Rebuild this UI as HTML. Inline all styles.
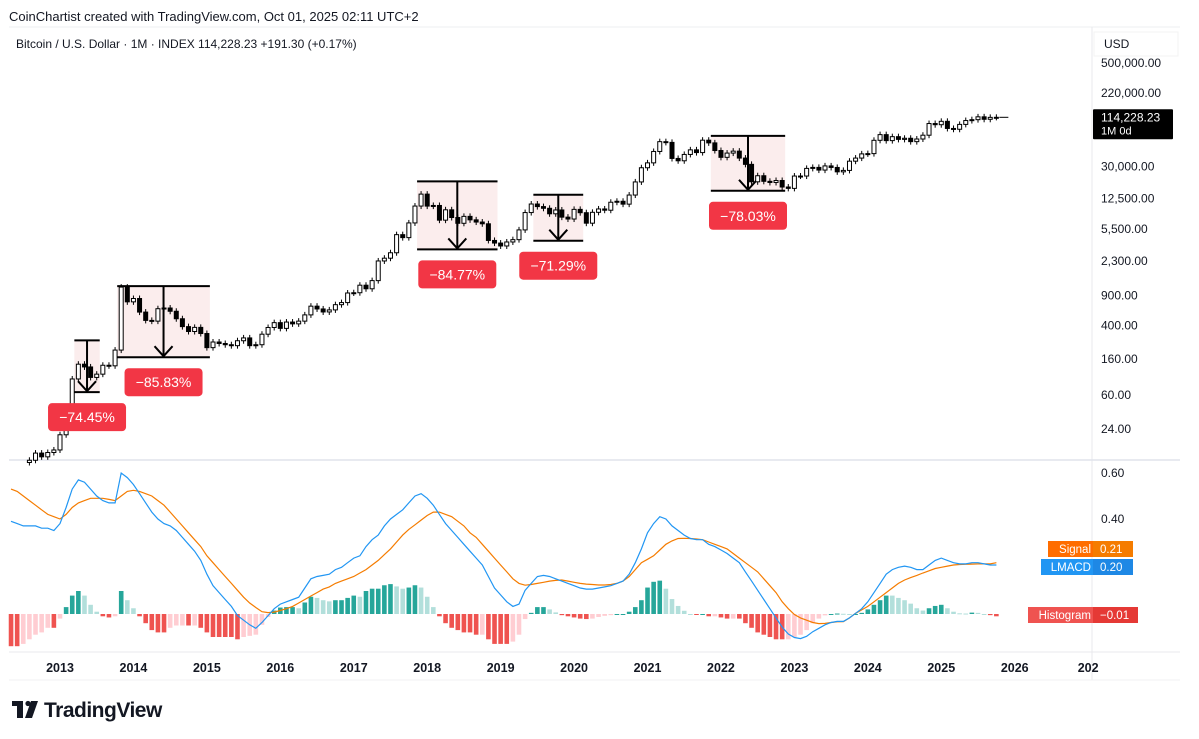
<!DOCTYPE html>
<html><head><meta charset="utf-8">
<style>
body{margin:0;background:#fff;font-family:"Liberation Sans",sans-serif;}
svg{display:block}
text{font-family:"Liberation Sans",sans-serif;}
</style></head>
<body>
<svg id="c" width="1199" height="739" viewBox="0 0 1199 739">
<rect x="0" y="0" width="1199" height="739" fill="#fff"/>
<text x="9" y="21" font-size="13" fill="#131722">CoinChartist created with TradingView.com, Oct 01, 2025 02:11 UTC+2</text>
<line x1="9" y1="27" x2="1180" y2="27" stroke="#eeeff2"/>
<line x1="1092" y1="27" x2="1092" y2="680" stroke="#e8e9ec"/>
<line x1="9" y1="460" x2="1180" y2="460" stroke="#e0e3eb" stroke-width="1.5"/>
<line x1="9" y1="652" x2="1180" y2="652" stroke="#e8e9ec"/>
<line x1="9" y1="680" x2="1180" y2="680" stroke="#f0f1f3"/>
<text x="16" y="48" font-size="12" fill="#131722">Bitcoin / U.S. Dollar · 1M · INDEX  114,228.23  +191.30 (+0.17%)</text>
<rect x="1094" y="32" width="84" height="24" fill="#fff" stroke="#f3f3f3"/>
<text x="1104" y="48" font-size="12" fill="#131722">USD</text>
<g id="annot"></g>
<g id="candles"></g>
<g id="labels"></g>
<g id="macd"></g>
<g id="axes"></g>
<g>
<rect x="12" y="701" width="11" height="5" fill="#131722"/>
<rect x="17" y="701" width="6" height="17" fill="#131722"/>
<circle cx="28" cy="703.5" r="2.6" fill="#131722"/>
<polygon points="31,701 38,701 32,718 25,718" fill="#131722"/>
<text x="44" y="717" font-size="21" font-weight="bold" fill="#131722" letter-spacing="-0.5">TradingView</text>
</g>
</svg>
<script>
// ---- data ----
const firstMonth = -5; // Aug 2012 (months since Jan 2013)
const closes = [10.2,12.4,11.2,12.6,13.5,
20.4,33.4,93,139,129,97,106,135,133,204,1130,757,
829,573,457,448,628,640,586,478,386,338,378,320,
218,254,244,236,230,263,284,230,236,314,377,430,
368,437,416,448,531,673,624,575,608,701,742,963,
970,1190,1080,1348,2300,2480,2875,4703,4338,6468,10233,14156,
10221,10397,6973,9240,7494,6404,7730,7033,6625,6318,4017,3742,
3457,3854,4105,5350,8574,10817,10085,9630,8293,9199,7569,7193,
9350,8543,6424,8630,9455,9138,11351,11655,10779,13805,19713,28990,
33114,45137,58918,57750,37332,35040,41626,47166,43790,61318,57005,46306,
38483,43194,45538,37714,31792,19785,23336,20050,19431,20495,17168,16547,
23139,23147,28478,29268,27219,30477,29230,25940,26967,34667,37712,42265,
42580,61130,71333,60636,67491,62678,64619,58969,63329,70215,96449,93429,
102405,84373,82548,94207,104638,107135,115758,108236,114037,114228];
const firstOpen = 9.6;
const macdStart = -8;
const macdVals = [0.39,0.38,0.37,0.37,0.37,0.36,0.36,0.35,
0.38,0.45,0.53,0.57,0.56,0.53,0.50,0.48,0.47,0.47,0.60,0.58,
0.55,0.51,0.47,0.43,0.40,0.38,0.37,0.35,0.32,0.29,0.26,0.22,
0.16,0.11,0.08,0.05,0.02,-0.02,-0.04,-0.06,-0.075,-0.05,-0.02,0.01,
0.03,0.04,0.05,0.06,0.10,0.14,0.15,0.155,0.16,0.18,0.19,0.21,
0.23,0.24,0.28,0.31,0.33,0.37,0.40,0.42,0.44,0.47,0.50,0.51,
0.49,0.46,0.42,0.38,0.35,0.32,0.29,0.26,0.23,0.20,0.15,0.10,
0.07,0.04,0.02,0.03,0.09,0.12,0.15,0.155,0.15,0.14,0.13,0.12,
0.11,0.10,0.095,0.095,0.10,0.105,0.11,0.12,0.13,0.16,0.21,0.27,
0.34,0.38,0.41,0.40,0.37,0.35,0.33,0.315,0.31,0.31,0.29,0.28,
0.265,0.25,0.23,0.21,0.17,0.13,0.09,0.05,0.01,-0.03,-0.07,-0.10,
-0.115,-0.12,-0.11,-0.09,-0.075,-0.06,-0.05,-0.045,-0.045,-0.03,-0.01,0.01,
0.04,0.08,0.12,0.16,0.18,0.19,0.195,0.19,0.18,0.18,0.20,0.22,
0.23,0.22,0.21,0.205,0.205,0.21,0.21,0.205,0.20,0.20];
const signalVals = [0.53,0.52,0.50,0.48,0.46,0.44,0.42,0.41,
0.40,0.42,0.45,0.47,0.48,0.49,0.49,0.49,0.485,0.48,0.50,0.52,
0.525,0.52,0.51,0.50,0.48,0.46,0.43,0.40,0.37,0.34,0.31,0.28,
0.24,0.21,0.18,0.15,0.12,0.09,0.06,0.035,0.015,-0.003,-0.007,-0.005,
0.002,0.01,0.02,0.035,0.05,0.065,0.08,0.095,0.105,0.12,0.13,0.14,
0.15,0.165,0.18,0.20,0.22,0.245,0.27,0.30,0.33,0.355,0.375,0.395,
0.415,0.43,0.43,0.42,0.41,0.39,0.37,0.34,0.32,0.29,0.26,0.23,
0.20,0.17,0.14,0.12,0.112,0.115,0.12,0.125,0.13,0.133,0.135,0.13,
0.125,0.12,0.117,0.115,0.113,0.113,0.115,0.12,0.13,0.15,0.18,0.21,
0.225,0.24,0.265,0.29,0.305,0.315,0.316,0.315,0.313,0.31,0.30,0.29,
0.28,0.27,0.25,0.23,0.21,0.19,0.17,0.14,0.11,0.08,0.04,0.01,
-0.015,-0.03,-0.04,-0.05,-0.055,-0.054,-0.05,-0.047,-0.046,-0.03,-0.01,0.005,
0.02,0.04,0.06,0.08,0.10,0.12,0.135,0.145,0.155,0.165,0.175,0.185,
0.19,0.195,0.20,0.202,0.203,0.204,0.205,0.205,0.205,0.21];
const priceTicks = [500000,220000,30000,12500,5500,2300,900,400,160,60,24];
const priceTickLabels = ["500,000.00","220,000.00","30,000.00","12,500.00","5,500.00","2,300.00","900.00","400.00","160.00","60.00","24.00"];
const macdTicks = [0.6,0.4];
const macdTickLabels = ["0.60","0.40"];
const yearLabels = ["2013","2014","2015","2016","2017","2018","2019","2020","2021","2022","2023","2024","2025","2026","202"];
// drawdowns
const drawStart = [3, 10, 59, 78, 107];
const drawEnd = [6, 24, 71, 85, 118];
const drawHigh = [266, 1160, 20000, 13900, 69000];
const drawLow = [65, 168, 3150, 3990, 15500];
const drawLabels = ["\u221274.45%","\u221285.83%","\u221284.77%","\u221271.29%","\u221278.03%"];

// ---- scales ----
const NS='http://www.w3.org/2000/svg';
function xOf(m){return 60+m*6.12;}
function yOf(p){return 63+(Math.log10(500000)-Math.log10(p))*84.7;}
function yM(v){return 611-v*230;}
const HB=614, HK=1.0;
function mk(tag,attrs,parent){const e=document.createElementNS(NS,tag);for(const k in attrs)e.setAttribute(k,attrs[k]);parent.appendChild(e);return e;}

// ---- annotations ----
const an=document.getElementById('annot');
const lb=document.getElementById('labels');
for(let i=0;i<drawStart.length;i++){
  const x1=xOf(drawStart[i])-4,x2=xOf(drawEnd[i])+3,y1=yOf(drawHigh[i]),y2=yOf(drawLow[i]),xm=(x1+x2)/2;
  const g=mk('g',{},an);
  
  
  mk('rect',{x:x1,y:y1,width:x2-x1,height:y2-y1,fill:'#f9e6e6',opacity:0.7},g);
  mk('line',{x1:x1,y1:y1,x2:x2,y2:y1,stroke:'#000','stroke-width':2},g);
  mk('line',{x1:x1,y1:y2,x2:x2,y2:y2,stroke:'#000','stroke-width':2},g);
  mk('line',{x1:xm,y1:y1,x2:xm,y2:y2,stroke:'#000','stroke-width':2},g);
  mk('polyline',{points:(xm-9)+','+(y2-11)+' '+xm+','+(y2-1)+' '+(xm+9)+','+(y2-11),fill:'none',stroke:'#000','stroke-width':2},g);
  const lg=mk('g',{},lb);
  
  
  mk('rect',{x:xm-39,y:y2+11,width:78,height:28,rx:4,fill:'#f23645'},lg);
  const t=mk('text',{x:xm,y:y2+30,'font-size':14,fill:'#fff','text-anchor':'middle'},lg);
  t.textContent=drawLabels[i];
}

// ---- candles ----
const cg=document.getElementById('candles');
for(let i=0;i<closes.length;i++){
  const m=firstMonth+i,o=i?closes[i-1]:firstOpen,c=closes[i],x=xOf(m);
  const yo=yOf(o),yc=yOf(c),top=Math.min(yo,yc),bot=Math.max(yo,yc);
  const up=c>=o;
  const g=mk('g',{},cg);
  
  
  mk('line',{x1:x,y1:top-3,x2:x,y2:bot+3,stroke:'#000','stroke-width':1},g);
  mk('rect',{x:x-2,y:top,width:4,height:Math.max(1,bot-top),fill:up?'#fff':'#000',stroke:'#000','stroke-width':1},g);
}
const lp=closes[closes.length-1];
const pl=mk('line',{x1:xOf(firstMonth+closes.length-1)+3,y1:yOf(lp),x2:xOf(firstMonth+closes.length-1)+12,y2:yOf(lp),stroke:'#000','stroke-width':1},cg);



// ---- MACD ----
const mg=document.getElementById('macd');
for(let i=0;i<macdVals.length;i++){
  const d=macdVals[i]-signalVals[i],pd=i?macdVals[i-1]-signalVals[i-1]:d;
  const x=xOf(macdStart+i),h=d*230*HK;
  let col;
  if(d>=0) col=d>=pd?'#26a69a':'#b2dfdb'; else col=d<=pd?'#ef5350':'#ffcdd2';
  const r=mk('rect',{x:x-2.3,y:Math.min(HB,HB-h),width:4.6,height:Math.max(1,Math.abs(h)),fill:col},mg);
  
  
}
function line(vals,color,name){
  let d='';vals.forEach((v,i)=>{d+=(i?'L':'M')+xOf(macdStart+i).toFixed(1)+','+yM(v).toFixed(1);});
  const p=mk('path',{d:d,fill:'none',stroke:color,'stroke-width':1.2},mg);
  
  
}
line(signalVals,'#f57c00','signal-line');
line(macdVals,'#2196f3','lmacd-line');

// ---- axes ----
const ax=document.getElementById('axes');
priceTicks.forEach((p,i)=>{
  const t=mk('text',{x:1101,y:yOf(p)+4,'font-size':12,fill:'#131722'},ax);
  t.textContent=priceTickLabels[i];
  
  
});
macdTicks.forEach((v,i)=>{
  const t=mk('text',{x:1101,y:yM(v)+4,'font-size':12,fill:'#131722'},ax);
  t.textContent=macdTickLabels[i];
  
  
});
yearLabels.forEach((s,i)=>{
  const t=mk('text',{x:xOf(i*12),y:672,'font-size':12.5,'font-weight':'bold',fill:'#131722','text-anchor':'middle'},ax);
  t.textContent=s;
  
  
});
const yl=yOf(lp);
const lg=mk('g',{},ax);


mk('rect',{x:1093,y:yl-8,width:80,height:30,fill:'#000',rx:1},lg);
let t=mk('text',{x:1101,y:yl+4,'font-size':12,fill:'#fff'},lg);t.textContent='114,228.23';
t=mk('text',{x:1101,y:yl+17,'font-size':11,fill:'#fff'},lg);t.textContent='1M 0d';
function tag(x1,w1,w2,y,c1,c2,l,v,name){
  const g=mk('g',{},ax);
  
  
  mk('rect',{x:x1,y:y-8,width:w1,height:16,fill:c1},g);
  mk('rect',{x:1093,y:y-8,width:w2,height:16,fill:c2},g);
  let a=mk('text',{x:1091,y:y+4,'font-size':11.5,fill:'#fff','text-anchor':'end'},g);a.textContent=l;
  a=mk('text',{x:1100,y:y+4,'font-size':11.5,fill:'#fff'},g);a.textContent=v;
}
tag(1048,45,40,549,'#ff6d00','#f57c00','Signal','0.21','signal-value-tag');
tag(1041,52,40,567,'#2196f3','#1e88e5','LMACD','0.20','lmacd-value-tag');
tag(1028,65,45,615,'#ef5350','#e53935','Histogram','\u22120.01','histogram-value-tag');
</script>
</body></html>
